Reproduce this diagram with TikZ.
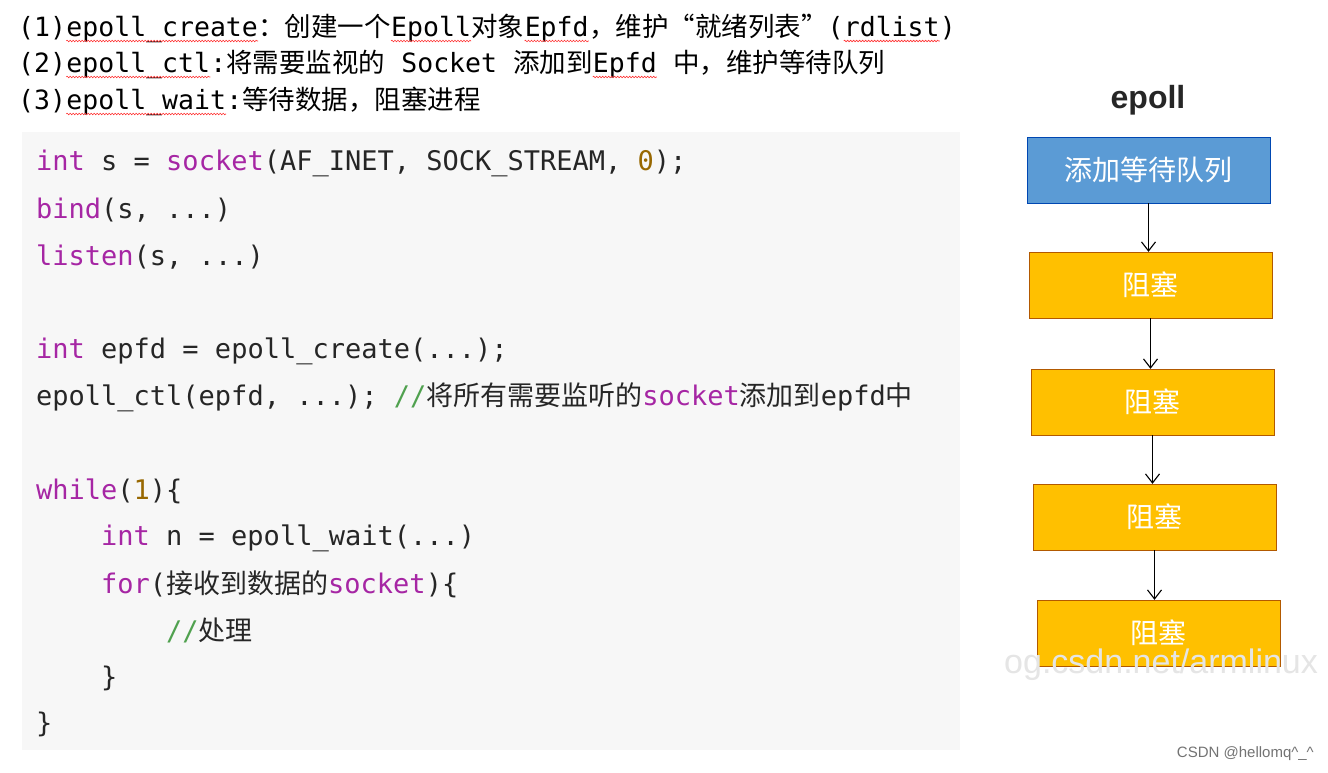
\documentclass[tikz,border=0pt]{standalone}
\usepackage{fontspec}
\setmonofont{DejaVu Sans Mono}
\setmainfont{Liberation Sans}
\newfontfamily\cjk{Noto Sans CJK SC}
\newfontfamily\hm{DejaVu Sans Mono}
\usetikzlibrary{arrows.meta,decorations.pathmorphing}
\definecolor{kw}{HTML}{A626A4}
\definecolor{cm}{HTML}{50A14F}
\definecolor{nm}{HTML}{986801}
\begin{document}
\begin{tikzpicture}[x=1pt,y=-1pt,
  code/.style={anchor=west,inner sep=0pt,font=\fontsize{27}{30}\selectfont\ttfamily,text=black!85},
  hd/.style={anchor=base west,inner sep=0pt,font=\fontsize{26.5}{30}\selectfont\cjk},
  wavy/.style={draw=red!80,line width=0.6pt,decorate,decoration={snake,amplitude=0.8pt,segment length=3pt}},
  bx/.style={draw=#1!70!black,minimum width=243pt,minimum height=66pt,inner sep=0pt,font=\fontsize{28}{32}\selectfont\cjk,text=white},
  ar/.style={-{Straight Barb[length=9pt,width=14pt]},line width=1.1pt}]
\useasboundingbox (0,0) rectangle (1328,772);
\fill[white] (0,0) rectangle (1328,772);
% header lines
\node[hd] (a1) at (18,36) {\hm(1)};
\node[hd,anchor=base west] (a2) at (a1.base east) {\hm epoll\_create};
\node[hd,anchor=base west] (a3) at (a2.base east) {：创建一个};
\node[hd,anchor=base west] (a4) at (a3.base east) {\hm Epoll};
\node[hd,anchor=base west] (a5) at (a4.base east) {对象};
\node[hd,anchor=base west] (a6) at (a5.base east) {\hm Epfd};
\node[hd,anchor=base west] (a7) at (a6.base east) {，维护“就绪列表”{\hm(}};
\node[hd,anchor=base west] (a8) at (a7.base east) {\hm rdlist};
\node[hd,anchor=base west] (a9) at (a8.base east) {\hm)};
\node[hd] (b1) at (18,72) {\hm(2)};
\node[hd,anchor=base west] (b2) at (b1.base east) {\hm epoll\_ctl};
\node[hd,anchor=base west] (b3) at (b2.base east) {{\hm:}将需要监视的{\hm\ Socket\ }添加到{\hm\ }};
\node[hd,anchor=base west] (b4) at (b3.base east) {\hm Epfd};
\node[hd,anchor=base west] (b5) at (b4.base east) {{\hm\ }中，维护等待队列};
\node[hd] (c1) at (18,109) {\hm(3)};
\node[hd,anchor=base west] (c2) at (c1.base east) {\hm epoll\_wait};
\node[hd,anchor=base west] (c3) at (c2.base east) {{\hm:}等待数据，阻塞进程};
\foreach \n in {a2,a4,a6,a8,b2,b4,c2}
  \draw[wavy] ([yshift=-5pt]\n.base west) -- ([yshift=-5pt]\n.base east);
% code panel
\fill[black!3] (22,132) rectangle (960,750);
\node[code] (l1) at (36,163) {\textcolor{kw}{int} s = \textcolor{kw}{socket}(AF\_INET, SOCK\_STREAM, \textcolor{nm}{0});};
\node[code] (l2) at (36,210) {\textcolor{kw}{bind}(s, ...)};
\node[code] (l3) at (36,257) {\textcolor{kw}{listen}(s, ...)};
\node[code] (l4) at (36,351) {\textcolor{kw}{int} epfd = epoll\_create(...);};
\node[code] (l5) at (36,397) {epoll\_ctl(epfd, ...); \textcolor{cm}{//}{\cjk 将所有需要监听的}\textcolor{kw}{socket}{\cjk 添加到}epfd{\cjk 中}};
\node[code] (l6) at (36,491) {\textcolor{kw}{while}(\textcolor{nm}{1})\{};
\node[code] (l7) at (101,538) {\textcolor{kw}{int} n = epoll\_wait(...)};
\node[code] (l8) at (101,584) {\textcolor{kw}{for}({\cjk 接收到数据的}\textcolor{kw}{socket})\{};
\node[code] (l9) at (166,630) {\textcolor{cm}{//}{\cjk 处理}};
\node[code] (l10) at (101,678) {\}};
\node[code] (l11) at (36,724) {\}};
% right diagram
\node[font=\fontsize{32}{36}\selectfont\bfseries,text=black!85] (t) at (1148,100) {epoll};
\node[bx=blue!60!cyan,fill={rgb,255:red,91;green,155;blue,213}] (k0) at (1148.5,170) {添加等待队列};
\node[bx=orange,fill={rgb,255:red,255;green,192;blue,0}] (k1) at (1150.5,285) {阻塞};
\node[bx=orange,fill={rgb,255:red,255;green,192;blue,0}] (k2) at (1152.5,402) {阻塞};
\node[bx=orange,fill={rgb,255:red,255;green,192;blue,0}] (k3) at (1154.5,517) {阻塞};
\node[bx=orange,fill={rgb,255:red,255;green,192;blue,0}] (k4) at (1158.5,633) {阻塞};
\draw[ar] (k0.south) -- (k1.north -| k0.south);
\draw[ar] (k1.south) -- (k2.north -| k1.south);
\draw[ar] (k2.south) -- (k3.north -| k2.south);
\draw[ar] (k3.south) -- (k4.north -| k3.south);
\node[anchor=west,inner sep=0pt,text=black!10,font=\fontsize{34}{36}\selectfont] (wm) at (1004,665) {og.csdn.net/armlinux};
\node[anchor=east,inner sep=0pt,text=black!55,font=\fontsize{15}{18}\selectfont] (cs) at (1314,754) {CSDN @hellomq\^{}\_\^{}};
\end{tikzpicture}
\end{document}
